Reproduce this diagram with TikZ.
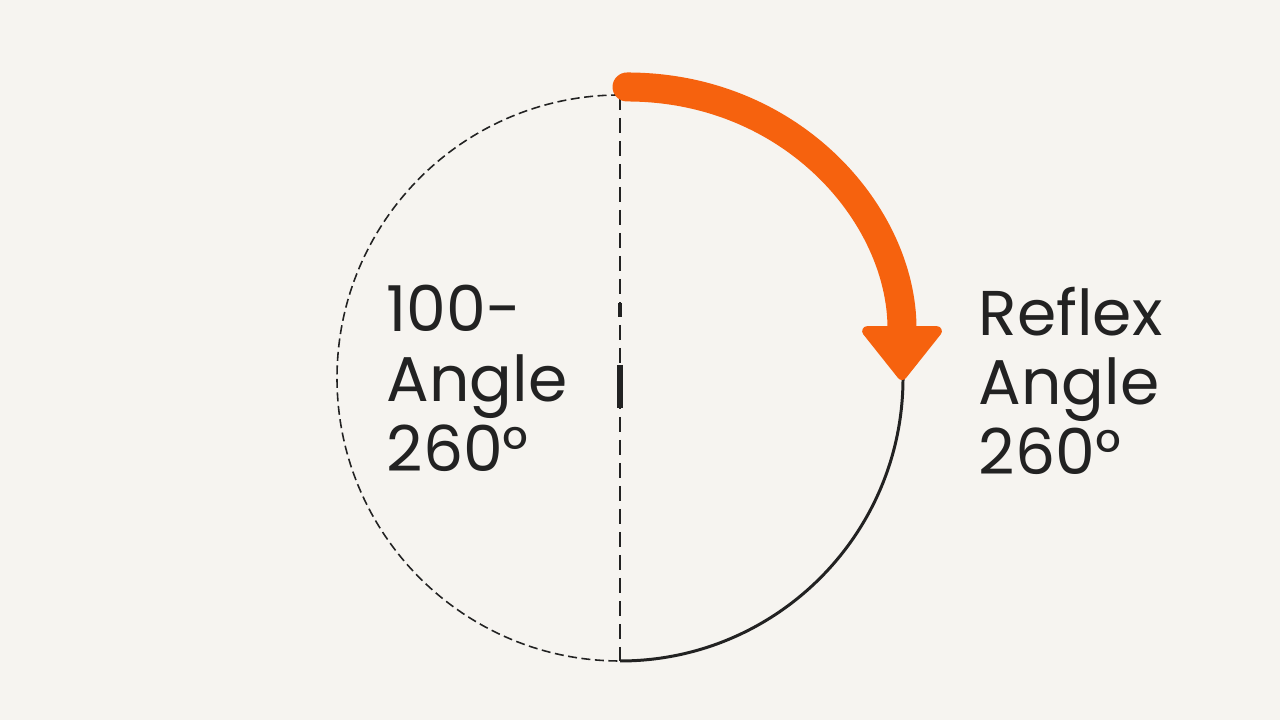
\documentclass[tikz,border=0pt]{standalone}
\usepackage{fontspec}
\setmainfont{Poppins}
\usetikzlibrary{arrows.meta}
\definecolor{paper}{RGB}{246,244,240}
\definecolor{ink}{RGB}{34,34,34}
\definecolor{sweep}{RGB}{246,98,14}
\begin{document}
\begin{tikzpicture}[
  guide/.style={ink,line width=0.45pt,dash pattern=on 0.9mm off 0.45mm},
  axis/.style={ink,line width=0.45pt,dash pattern=on 1.5mm off 0.8mm},
  label/.style={ink,align=left,anchor=north west,inner sep=0pt,font=\fontsize{18}{19.9}\selectfont}
]
  \fill[paper] (0,0) rectangle (12.8,7.2);
  \coordinate (O) at (6.2,3.42);
  \coordinate (top) at (6.2,6.25);
  \coordinate (bot) at (6.2,0.59);
  \coordinate (right) at (9.03,3.42);
  \draw[guide] (top) arc (90:270:2.83);
  \draw[axis] (top) -- (bot);
  \draw[ink,line width=0.85pt] (right) arc (0:-90:2.83);
  % marks on the axis
  \draw[ink,line width=1.2pt] (6.2,4.17) -- (6.2,4.03);
  \draw[ink,line width=1.8pt] (6.2,3.55) -- (6.2,3.12);
  \coordinate (start) at (6.27,6.33);
  \coordinate (tip) at (9.02,3.40);
  \draw[sweep,line width=2.9mm,line cap=round,
    -{Triangle[width=8.8mm,length=5.7mm,line width=1mm,round]}]
    (start) to[out=0,in=90,looseness=1.05] (tip);
  \node[label] (small) at (3.86,4.36) {100-\\Angle\\260°};
  \node[label] (reflex) at (9.78,4.34) {Reflex\\Angle\\260°};
\end{tikzpicture}
\end{document}
